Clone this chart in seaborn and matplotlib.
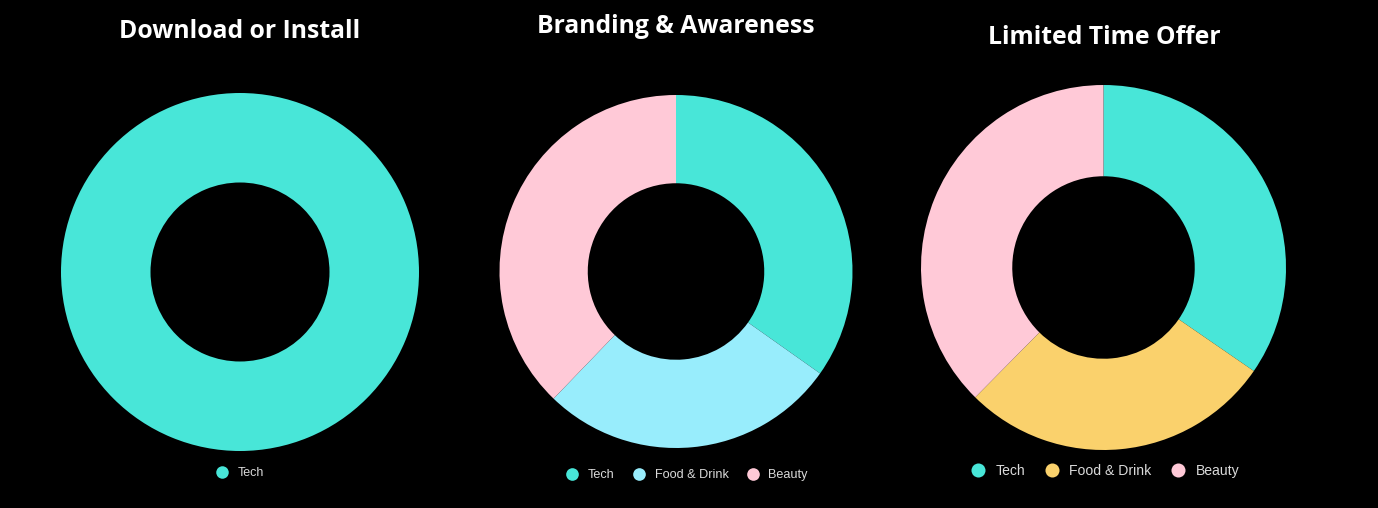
#!/usr/bin/env python3
#
# Campaign objective by category: three donut charts
#
import numpy as np
import matplotlib
matplotlib.use('Agg')
import matplotlib.pyplot as plt
from matplotlib.lines import Line2D
import seaborn as sns

# Data
titles = ['Download or Install', 'Branding & Awareness', 'Limited Time Offer']
categories = [
    ['Tech'],
    ['Tech', 'Food & Drink', 'Beauty'],
    ['Tech', 'Food & Drink', 'Beauty'],
]
download_values = [100]
branding_values = [34.8, 27.4, 37.8]
offer_values = [34.6, 27.8, 37.6]
values = [download_values, branding_values, offer_values]

# Colours
tech = '#48E6D8'
colors = [
    [tech],
    [tech, '#98EDFC', '#FFC9D7'],
    [tech, '#FAD16C', '#FFC9D7'],
]

sns.set_theme(style='dark', rc={
    'figure.facecolor': 'black',
    'axes.facecolor': 'black',
    'savefig.facecolor': 'black',
})
plt.rcParams['font.family'] = ['Liberation Sans', 'DejaVu Sans']

W, H = 1378, 508
fig = plt.figure(figsize=(W / 100, H / 100), dpi=100)

# Axes boxes in pixels: left, bottom, size
boxes = [(61, 57, 358), (499.5, 60, 353), (921, 58, 365)]
# Title positions: centre x, baseline (pixels from top)
title_pos = [(240, 38.5), (676, 33), (1104, 44)]
# Legend positions and sizes
legend_pos = [(240, 473, 9.0), (687, 475, 9.1), (1105, 471, 10.1)]

for i in range(3):
    l, b, s = boxes[i]
    ax = fig.add_axes([l / W, b / H, s / W, s / H])
    ax.pie(
        values[i],
        colors=colors[i],
        startangle=90,
        counterclock=False,
        radius=1,
        wedgeprops=dict(width=0.5, linewidth=0),
    )
    ax.set_xlim(-1, 1)
    ax.set_ylim(-1, 1)
    ax.set_aspect('equal')
    ax.axis('off')

    tx, ty = title_pos[i]
    fig.text(tx / W, 1 - ty / H, titles[i], color='white', ha='center',
             va='baseline', fontsize=17.8, fontweight='bold',
             family='Open Sans')

    lx, ly, fs = legend_pos[i]
    handles = [
        Line2D([0], [0], marker='o', linestyle='none', markersize=fs * 1.0,
               markerfacecolor=c, markeredgewidth=0, label=n)
        for n, c in zip(categories[i], colors[i])
    ]
    leg = ax.legend(
        handles=handles,
        loc='center',
        bbox_to_anchor=(lx / W, 1 - ly / H),
        bbox_transform=fig.transFigure,
        ncol=len(handles),
        frameon=False,
        fontsize=fs,
        handlelength=1.0,
        handletextpad=0.75,
        columnspacing=1.4,
    )
    for t in leg.get_texts():
        t.set_color('#DADADA')

plt.savefig('out.png', dpi=100)
